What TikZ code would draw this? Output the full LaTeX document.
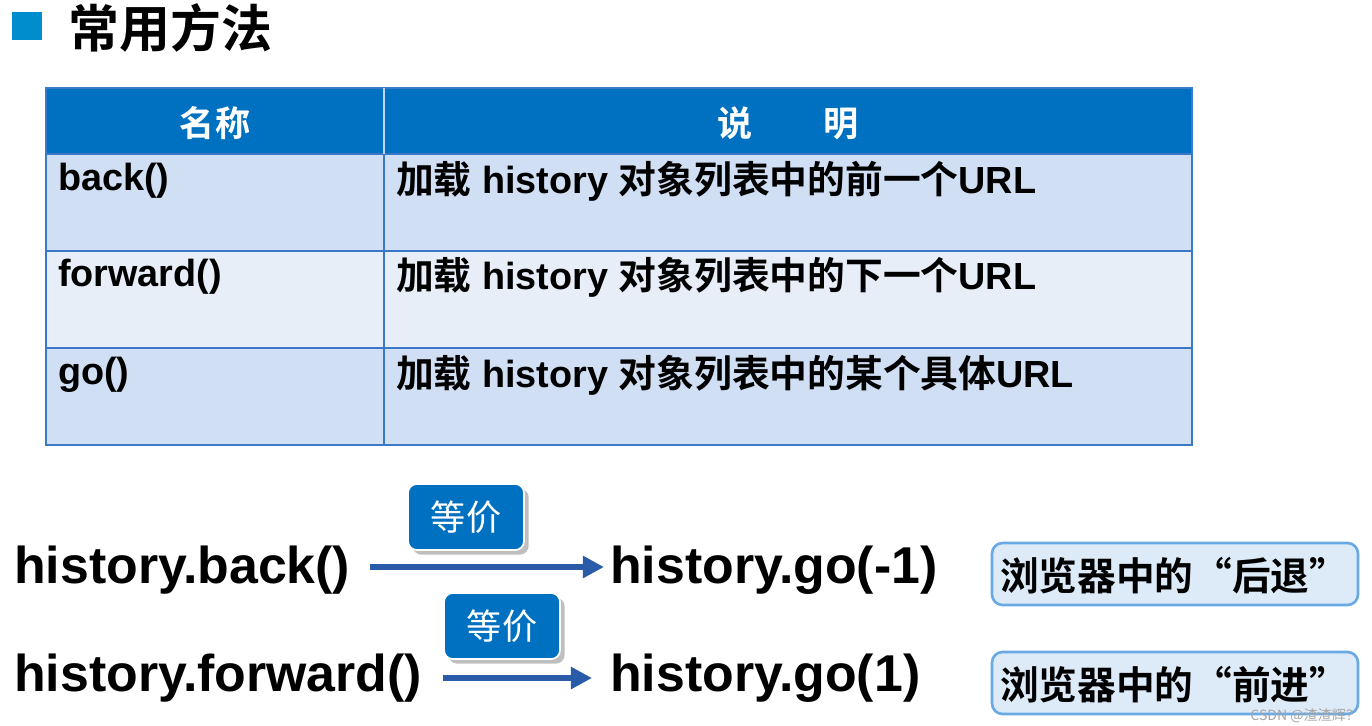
\documentclass[tikz,border=0pt]{standalone}
\usepackage{fontspec}
\setmainfont{Liberation Sans}
\newfontfamily\cjk{Noto Sans CJK SC}[BoldFont={* Bold}]
\newcommand\zh[1]{{\cjk #1}}
\usetikzlibrary{arrows.meta,shadows}
\definecolor{hdr}{HTML}{0070C0}
\definecolor{rowa}{HTML}{D0DFF4}
\definecolor{rowb}{HTML}{E8EEF8}
\definecolor{bord}{HTML}{3A78C8}
\definecolor{arr}{HTML}{2A5BA8}
\definecolor{boxb}{HTML}{6AAAE4}
\definecolor{boxf}{HTML}{DDEBF9}
\tikzset{
  cell/.style={anchor=west,font=\fontsize{21.5}{24}\selectfont\bfseries},
  big/.style={anchor=west,font=\fontsize{29.5}{32}\selectfont\bfseries},
  badge/.style={fill=hdr,draw=white,line width=1pt,rounded corners=5pt,text=white,font=\fontsize{20}{22}\selectfont\cjk,minimum width=116*0.02cm,minimum height=66*0.02cm,drop shadow},
  note/.style={fill=boxf,draw=boxb,line width=1.5pt,rounded corners=6pt,minimum width=366*0.02cm,minimum height=62*0.02cm,text=black},
  notetxt/.style={anchor=west,font=\fontsize{22}{24}\selectfont\bfseries\cjk},
  conn/.style={draw=arr,line width=3pt,-{Triangle[length=12pt,width=12pt]}}
}
\begin{document}
\begin{tikzpicture}[x=0.02cm,y=-0.02cm]
\useasboundingbox (0,0) rectangle (1372,725);
% title
\fill[hdr!80!cyan] (12,12) rectangle (42,40);
\node[anchor=west,font=\fontsize{29}{32}\selectfont\bfseries\cjk] (title) at (62,28) {常用方法};
% table
\fill[hdr] (46,88) rectangle (1192,154);
\fill[rowa] (46,154) rectangle (1192,251);
\fill[rowb] (46,251) rectangle (1192,348);
\fill[rowa] (46,348) rectangle (1192,445);
\draw[bord,line width=1.5pt] (46,88) rectangle (1192,445);
\draw[bord,line width=1.5pt] (46,154) -- (1192,154) (46,251) -- (1192,251) (46,348) -- (1192,348);
\draw[white!70!bord,line width=1pt] (384,88) -- (384,154);
\draw[bord,line width=1.5pt] (384,154) -- (384,445);
\node[font=\fontsize{20}{22}\selectfont\bfseries\cjk,text=white] (h1) at (215,123) {名称};
\node[font=\fontsize{20}{22}\selectfont\bfseries\cjk,text=white] (h2) at (788,123) {说\hspace{2em}明};
\node[cell] (n1) at (52,181) {back()};
\node[cell] (d1) at (390,181) {\zh{加载} history \zh{对象列表中的前一个}URL};
\node[cell] (n2) at (52,277) {forward()};
\node[cell] (d2) at (390,277) {\zh{加载} history \zh{对象列表中的下一个}URL};
\node[cell] (n3) at (52,375) {go()};
\node[cell] (d3) at (390,375) {\zh{加载} history \zh{对象列表中的某个具体}URL};
% equivalences
\node[big] (b) at (8,570) {history.back()};
\node[big] (g1) at (604,570) {history.go(-1)};
\node[big] (f) at (8,678) {history.forward()};
\node[big] (g2) at (604,678) {history.go(1)};
\coordinate (a1s) at (370,567); \coordinate (a1e) at (604,567);
\coordinate (a2s) at (443,678); \coordinate (a2e) at (592,678);
\draw[conn] (a1s) -- (a1e);
\draw[conn] (a2s) -- (a2e);
\node[badge] (e1) at (466,517) {等价};
\node[badge] (e2) at (502,626) {等价};
\node[note] (r1) at (1175,574) {};
\node[notetxt] (t1) at (994,576) {浏览器中的“后退”};
\node[note] (r2) at (1175,683) {};
\node[notetxt] (t2) at (994,685) {浏览器中的“前进”};
\node[anchor=south east,inner sep=1pt,text=gray!70,font=\fontsize{8}{9}\selectfont\cjk] (wm) at (1362,725) {CSDN @渣渣辉？};
\end{tikzpicture}
\end{document}
